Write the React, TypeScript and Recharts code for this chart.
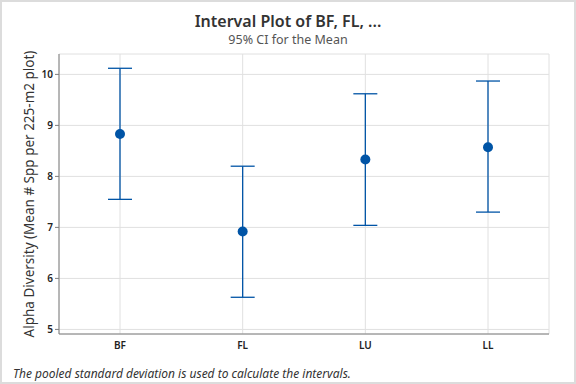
import React from 'react';
import { ComposedChart, Line, ErrorBar, XAxis, YAxis, CartesianGrid } from 'recharts';

const categories = ['BF', 'FL', 'LU', 'LL'];
const means = [8.83, 6.92, 8.33, 8.57];
const lowers = [7.55, 5.63, 7.04, 7.30];
const uppers = [10.12, 8.20, 9.62, 9.87];
const yTicks = [5, 6, 7, 8, 9, 10];

const data = categories.map((cat, i) => ({
  cat,
  mean: means[i],
  err: [means[i] - lowers[i], uppers[i] - means[i]],
}));

const BLUE = '#0054a6';
const FRAME = '#7f7f7f';
const FONT = '"Noto Sans", "Open Sans", sans-serif';
const PAD = 61;

const App: React.FC = () => {
  return (
    <div
      style={{
        position: 'absolute',
        left: 0,
        top: 0,
        width: 576,
        height: 384,
        boxSizing: 'border-box',
        border: '2px solid #dcdcdc',
        background: '#fff',
        fontFamily: FONT,
      }}
    >
      <div style={{ position: 'absolute', left: -2, top: 8, width: 576, textAlign: 'center', fontSize: 16, fontWeight: 600, color: '#333' }}>
        Interval Plot of BF, FL, ...
      </div>
      <div style={{ position: 'absolute', left: -2, top: 29, width: 576, textAlign: 'center', fontSize: 12.5, color: '#555' }}>
        95% CI for the Mean
      </div>
      <div style={{ position: 'absolute', left: 11, top: 363, fontSize: 12, fontStyle: 'italic', color: '#333' }}>
        The pooled standard deviation is used to calculate the intervals.
      </div>
      <div style={{ position: 'absolute', left: -2, top: -2 }}>
        <ComposedChart width={576} height={384} data={data} margin={{ top: 54, right: 27, bottom: 20, left: 0 }}>
          <CartesianGrid stroke="#e0e0e0" />
          <XAxis
            dataKey="cat"
            height={30}
            padding={{ left: PAD, right: PAD }}
            tickLine={false}
            axisLine={{ stroke: FRAME }}
            tick={{ fontSize: 10, fontWeight: 600, fill: '#222', fontFamily: FONT }}
          />
          <XAxis xAxisId="top" orientation="top" dataKey="cat" height={0} padding={{ left: PAD, right: PAD }} tick={false} tickLine={false} axisLine={{ stroke: FRAME }} />
          <YAxis
            width={59}
            domain={[4.91, 10.4]}
            ticks={yTicks}
            tickSize={4}
            tickMargin={2}
            tickLine={{ stroke: FRAME }}
            axisLine={{ stroke: FRAME }}
            tick={{ fontSize: 10, fontWeight: 600, fill: '#222', fontFamily: FONT }}
            label={{
              value: 'Alpha Diversity (Mean # Spp per 225-m2 plot)',
              angle: -90,
              position: 'insideLeft',
              offset: 0,
              dx: 29,
              style: { fontSize: 13.5, fill: '#333', textAnchor: 'middle', fontFamily: FONT },
            }}
          />
          <YAxis yAxisId="right" orientation="right" width={0} domain={[4.91, 10.4]} tick={false} tickLine={false} axisLine={{ stroke: FRAME }} />
          <Line
            dataKey="mean"
            stroke="none"
            isAnimationActive={false}
            dot={{ r: 5, fill: BLUE, stroke: BLUE, strokeWidth: 0 }}
            activeDot={false}
          >
            <ErrorBar dataKey="err" width={12} stroke={BLUE} strokeWidth={1.3} direction="y" />
          </Line>
        </ComposedChart>
      </div>
    </div>
  );
};

export default App;
